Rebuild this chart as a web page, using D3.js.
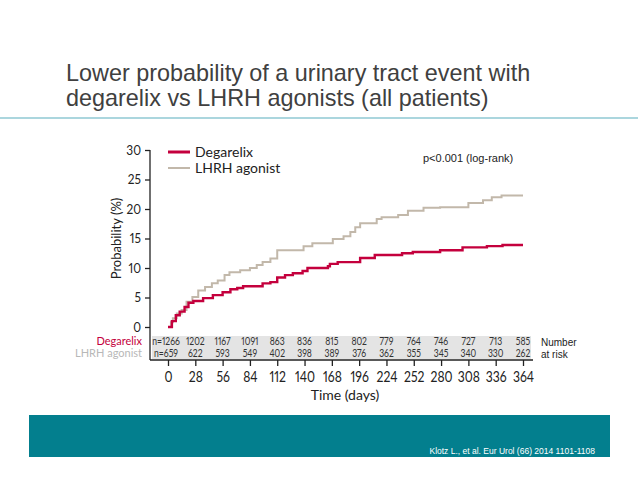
<!DOCTYPE html>
<html>
<head>
<meta charset="utf-8">
<script src="https://cdn.jsdelivr.net/npm/d3@7"></script>
<style>
  body { margin: 0; background: #fff; }
  svg { display: block; }
  .gill { font-feature-settings: "pnum" 1, "lnum" 1; font-variant-numeric: proportional-nums; }
</style>
</head>
<body>
<div id="chart"></div>
<script>
// step curves: [day, probability %]
const degarelix = [[0,0],[4,1.0],[8,2.0],[12,2.6],[17,3.4],[21,4.1],[26,4.4],[36,4.9],[46,5.4],[56,5.9],[64,6.4],[71,6.6],[77,6.9],[97,7.4],[105,7.6],[112,8.4],[120,8.8],[128,9.1],[138,9.5],[143,10.0],[164,10.3],[166,10.7],[174,11.0],[197,11.7],[212,12.2],[240,12.5],[251,12.7],[279,13.0],[302,13.5],[327,13.7],[343,13.9],[364,13.9]];
const lhrh = [[0,0],[3,0.8],[5,1.5],[9,2.3],[14,2.9],[19,4.3],[25,5.1],[31,6.2],[38,6.8],[45,7.4],[51,7.9],[58,8.8],[63,9.3],[74,9.6],[84,10.0],[91,10.5],[97,11.0],[105,11.6],[112,13.0],[139,13.7],[148,14.2],[169,14.9],[180,15.4],[187,16.1],[192,16.9],[197,17.6],[214,18.3],[219,18.6],[236,19.0],[246,19.7],[262,20.2],[279,20.3],[308,21.0],[323,21.5],[332,22.0],[342,22.3],[364,22.3]];

const dayTicks = [0, 28, 56, 84, 112, 140, 168, 196, 224, 252, 280, 308, 336, 364];
const probTicks = [0, 5, 10, 15, 20, 25, 30];
const riskDegarelix = ["n=1266", "1202", "1167", "1091", "863", "836", "815", "802", "779", "764", "746", "727", "713", "585"];
const riskLhrh = ["n=659", "622", "593", "549", "402", "398", "389", "376", "362", "355", "345", "340", "330", "262"];

const W = 638, H = 493;
const red = "#c4003d", beige = "#c2b8aa";
const gill = "Lato, 'Open Sans', sans-serif";
const arial = "'Liberation Sans', Arial, sans-serif";

// squeeze a text horizontally (Gill Sans digits are narrower than Lato's)
function condense(sel, k) {
    sel.each(function () {
        const len = this.getComputedTextLength();
        d3.select(this)
            .attr("textLength", len * k)
            .attr("lengthAdjust", "spacingAndGlyphs");
    });
}

const svg = d3.select("#chart").append("svg")
    .attr("width", W)
    .attr("height", H);

// slide title
const title = svg.append("text")
    .attr("x", 66)
    .attr("font-family", arial)
    .attr("font-size", 23.4)
    .attr("fill", "#404040");
title.append("tspan").attr("x", 66).attr("y", 81).text("Lower probability of a urinary tract event with");
title.append("tspan").attr("x", 66).attr("y", 106).text("degarelix vs LHRH agonists (all patients)");

svg.append("line")
    .attr("x1", 0).attr("x2", W)
    .attr("y1", 118).attr("y2", 118)
    .attr("stroke", "#8fc8d3")
    .attr("stroke-width", 1.5);

// scales
const x = d3.scaleLinear().domain([0, 364]).range([168, 523]);
const y = d3.scaleLinear().domain([0, 30]).range([327, 150]);

const axisLeftX = 150, axisBottomY = 360;

// number at risk band
svg.append("rect")
    .attr("x", axisLeftX + 2).attr("y", 336)
    .attr("width", 531 - axisLeftX - 2).attr("height", axisBottomY - 337)
    .attr("fill", "#e4e4e4");

// y axis
const yAxis = svg.append("g")
    .attr("transform", `translate(${axisLeftX},0)`)
    .call(d3.axisLeft(y).tickValues(probTicks).tickSize(5).tickPadding(4));
yAxis.select(".domain").remove();
yAxis.selectAll("line").attr("stroke", "#222").attr("stroke-width", 1.3);
yAxis.selectAll("text").attr("class", "gill").attr("font-family", gill).attr("font-size", 14).attr("fill", "#222");
condense(yAxis.selectAll("text"), 0.85);

svg.append("line")
    .attr("x1", axisLeftX).attr("x2", axisLeftX)
    .attr("y1", y(30)).attr("y2", axisBottomY)
    .attr("stroke", "#222").attr("stroke-width", 1.3);

// x axis
const xAxis = svg.append("g")
    .attr("transform", `translate(0,${axisBottomY})`)
    .call(d3.axisBottom(x).tickValues(dayTicks).tickSize(6).tickPadding(5));
xAxis.select(".domain").remove();
xAxis.selectAll("line").attr("stroke", "#222").attr("stroke-width", 1.3);
xAxis.selectAll("text").attr("class", "gill").attr("font-family", gill).attr("font-size", 16).attr("fill", "#222");
condense(xAxis.selectAll("text"), 0.76);

svg.append("line")
    .attr("x1", axisLeftX).attr("x2", 533)
    .attr("y1", axisBottomY).attr("y2", axisBottomY)
    .attr("stroke", "#222").attr("stroke-width", 1.3);

svg.append("text")
    .attr("x", 345).attr("y", 400)
    .attr("text-anchor", "middle")
    .attr("font-family", gill).attr("font-size", 14).attr("fill", "#222")
    .text("Time (days)");

svg.append("text")
    .attr("transform", `translate(121,${y(15)}) rotate(-90)`)
    .attr("text-anchor", "middle")
    .attr("font-family", gill).attr("font-size", 13).attr("fill", "#222")
    .text("Probability (%)");

// curves
const line = d3.line()
    .x(d => x(d[0]))
    .y(d => y(d[1]))
    .curve(d3.curveStepAfter);

svg.append("path")
    .datum(lhrh)
    .attr("d", line)
    .attr("fill", "none")
    .attr("stroke", beige)
    .attr("stroke-width", 2);

svg.append("path")
    .datum(degarelix)
    .attr("d", line)
    .attr("fill", "none")
    .attr("stroke", red)
    .attr("stroke-width", 2.4);

// legend
const legend = [
    { name: "Degarelix", color: red, w: 3, y: 152 },
    { name: "LHRH agonist", color: beige, w: 2, y: 168 }
];
legend.forEach(l => {
    svg.append("line")
        .attr("x1", 168).attr("x2", 190)
        .attr("y1", l.y).attr("y2", l.y)
        .attr("stroke", l.color).attr("stroke-width", l.w);
    svg.append("text")
        .attr("x", 195).attr("y", l.y + 5)
        .attr("font-family", gill).attr("font-size", 14).attr("fill", "#222")
        .text(l.name);
});

svg.append("text")
    .attr("x", 423).attr("y", 162)
    .attr("font-family", arial).attr("font-size", 11).attr("fill", "#222")
    .text("p<0.001 (log-rank)");

// number at risk rows
const rows = [
    { label: "Degarelix", color: red, values: riskDegarelix, y: 345 },
    { label: "LHRH agonist", color: "#b8b8b8", values: riskLhrh, y: 357 }
];
rows.forEach(r => {
    svg.append("text")
        .attr("x", 142).attr("y", r.y)
        .attr("text-anchor", "end")
        .attr("font-family", gill).attr("font-size", 11).attr("fill", r.color)
        .text(r.label);
    const cells = svg.append("g").selectAll("text")
        .data(r.values)
        .join("text")
        .attr("class", "gill")
        .attr("x", (d, i) => x(dayTicks[i]) + (i === 0 ? -2 : 0))
        .attr("y", r.y)
        .attr("text-anchor", "middle")
        .attr("font-family", gill).attr("font-size", 11).attr("fill", "#333")
        .text(d => d);
    condense(cells, 0.78);
});

svg.append("text")
    .attr("x", 541).attr("y", 346)
    .attr("font-family", arial).attr("font-size", 10).attr("fill", "#222")
    .text("Number");
svg.append("text")
    .attr("x", 541).attr("y", 358)
    .attr("font-family", arial).attr("font-size", 10).attr("fill", "#222")
    .text("at risk");

// footer band
svg.append("rect")
    .attr("x", 29).attr("y", 415)
    .attr("width", 581).attr("height", 42)
    .attr("fill", "#037f8e");

svg.append("text")
    .attr("x", 595).attr("y", 454)
    .attr("text-anchor", "end")
    .attr("font-family", arial).attr("font-size", 8.5).attr("fill", "#fff")
    .text("Klotz L., et al. Eur Urol (66) 2014 1101-1108");
</script>
</body>
</html>
